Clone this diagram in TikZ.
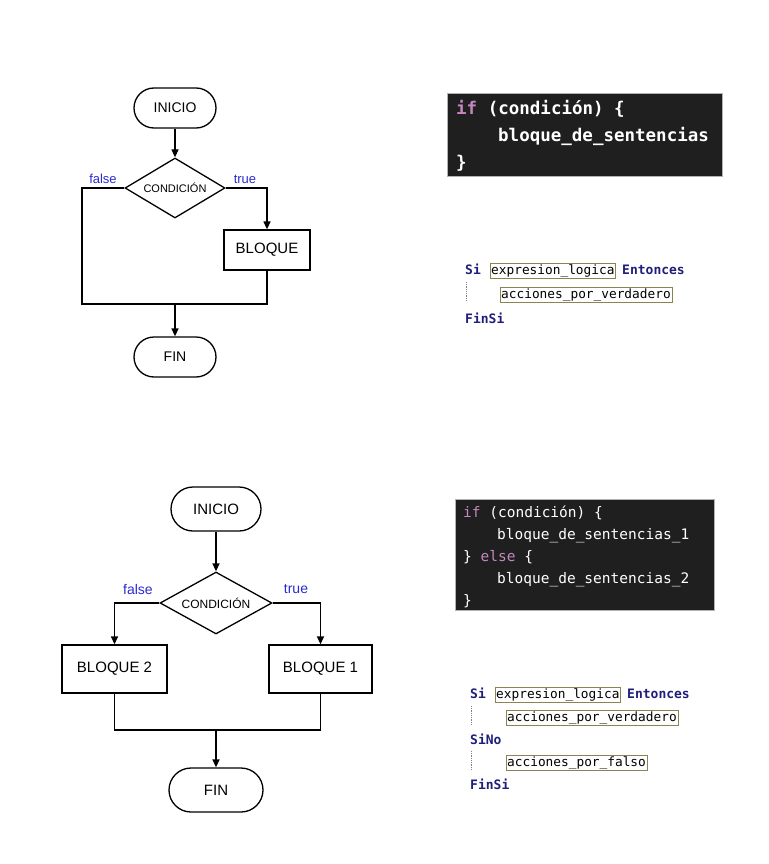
\documentclass[tikz,border=0pt]{standalone}
\usepackage{fontspec}
\setmainfont{Liberation Sans}
\newfontfamily\cmono{DejaVu Sans Mono}
\usetikzlibrary{shapes.geometric,arrows.meta}
\definecolor{kw}{HTML}{C586C0}
\definecolor{ps}{HTML}{1F1F7A}
\definecolor{bx}{HTML}{8A8450}
\definecolor{lb}{HTML}{2A2AD0}
\begin{document}
\begin{tikzpicture}[x=1pt,y=-1pt,
 term/.style={draw,line width=1.3pt,rounded corners=20pt,font=\fontsize{14}{16}\selectfont},
 blk/.style={draw,line width=1.3pt,font=\fontsize{15}{17}\selectfont},
 dia/.style={draw,line width=1.3pt,diamond,aspect=1.7,inner sep=0pt,font=\fontsize{11}{12}\selectfont},
 ln/.style={line width=1.3pt},
 ar/.style={line width=1.3pt,-{Triangle[length=8pt,width=7pt]}},
 tf/.style={text=lb,font=\fontsize{13}{15}\selectfont},
 code/.style={anchor=base west,text=white,inner sep=0pt,font=\cmono\bfseries\fontsize{17.5}{20}\selectfont},
 codeb/.style={anchor=base west,text=white,inner sep=0pt,font=\cmono\fontsize{14.5}{17}\selectfont},
 pk/.style={anchor=base west,text=ps,inner sep=0pt,font=\cmono\bfseries\fontsize{13}{15}\selectfont},
 pb/.style={anchor=base west,draw=bx,inner sep=1pt,font=\cmono\fontsize{12.8}{15}\selectfont},
 dt/.style={densely dotted,gray,line width=0.8pt}]
\useasboundingbox (0,0) rectangle (768,864);
% ---- top flowchart
\node[term,minimum width=82pt,minimum height=40pt] (i1) at (175,108) {INICIO};
\node[dia,minimum width=100pt,minimum height=60pt] (d1) at (175,188) {CONDICIÓN};
\node[blk,minimum width=86pt,minimum height=40pt] (b1) at (267,250) {BLOQUE};
\node[term,minimum width=82pt,minimum height=40pt] (f1) at (175,357) {FIN};
\node[tf] (fa1) at (103,179) {false};
\node[tf] (tr1) at (245,179) {true};
\coordinate (j1) at (175,304);
\draw[ar] (i1) -- (d1);
\draw[ar] (d1.east) -| (b1.north);
\draw[ln] (d1.west) -| (82,304) -- (j1);
\draw[ln] (b1.south) |- (j1);
\draw[ar] (j1) -- (f1);
% ---- bottom flowchart
\node[term,minimum width=90pt,minimum height=44pt,rounded corners=22pt,font=\fontsize{15}{17}\selectfont] (i2) at (216,509) {INICIO};
\node[dia,minimum width=112pt,minimum height=62pt,font=\fontsize{12}{13}\selectfont] (d2) at (216,603) {CONDICIÓN};
\node[blk,minimum width=105pt,minimum height=48pt] (b2) at (114.5,669) {BLOQUE 2};
\node[blk,minimum width=103pt,minimum height=48pt] (b3) at (320.5,669) {BLOQUE 1};
\node[term,minimum width=94pt,minimum height=44pt,rounded corners=22pt,font=\fontsize{15}{17}\selectfont] (f2) at (216,790) {FIN};
\node[tf,font=\fontsize{14}{16}\selectfont] (fa2) at (138,589) {false};
\node[tf,font=\fontsize{14}{16}\selectfont] (tr2) at (296,589) {true};
\coordinate (j2) at (216,730);
\draw[ar] (i2) -- (d2);
\draw[ar] (d2.west) -| (b2.north);
\draw[ar] (d2.east) -| (b3.north);
\draw[ln] (b2.south) |- (j2);
\draw[ln] (b3.south) |- (j2);
\draw[ar] (j2) -- (f2);
% ---- code block 1
\node[fill=black!88,draw=gray!60,minimum width=275pt,minimum height=83pt,inner sep=0pt] (c1) at (584.5,134.5) {};
\node[code] (c1a) at (456,114) {\textcolor{kw}{if} (condición) \{};
\node[code] (c1c) at (498,141) {bloque\_de\_sentencias};
\node[code] (c1d) at (456,168) {\}};
% ---- pseudo 1
\node[pk] (p1a) at (465,274) {Si};
\node[pb] (p1b) at (490,274) {expresion\_logica};
\node[pk] (p1c) at (622,274) {Entonces};
\node[pb] (p1d) at (500,298) {acciones\_por\_verdadero};
\node[pk] (p1e) at (465,323) {FinSi};
\draw[dt] (466,282) -- (466,301);
% ---- code block 2
\node[fill=black!88,draw=gray!60,minimum width=259pt,minimum height=111pt,inner sep=0pt] (c2) at (584.5,554.5) {};
\node[codeb] (c2a) at (463,517) {\textcolor{kw}{if} (condición) \{};
\node[codeb] (c2c) at (497,539) {bloque\_de\_sentencias\_1};
\node[codeb] (c2d) at (463,561) {\} \textcolor{kw}{else} \{};
\node[codeb] (c2g) at (497,583) {bloque\_de\_sentencias\_2};
\node[codeb] (c2h) at (463,605) {\}};
% ---- pseudo 2
\node[pk] (p2a) at (470,698) {Si};
\node[pb] (p2b) at (495,698) {expresion\_logica};
\node[pk] (p2c) at (627,698) {Entonces};
\node[pb] (p2d) at (506,721) {acciones\_por\_verdadero};
\node[pk] (p2e) at (470,744) {SiNo};
\node[pb] (p2f) at (506,766) {acciones\_por\_falso};
\node[pk] (p2g) at (470,789) {FinSi};
\draw[dt] (471,706) -- (471,725);
\draw[dt] (471,751) -- (471,770);
\end{tikzpicture}
\end{document}
